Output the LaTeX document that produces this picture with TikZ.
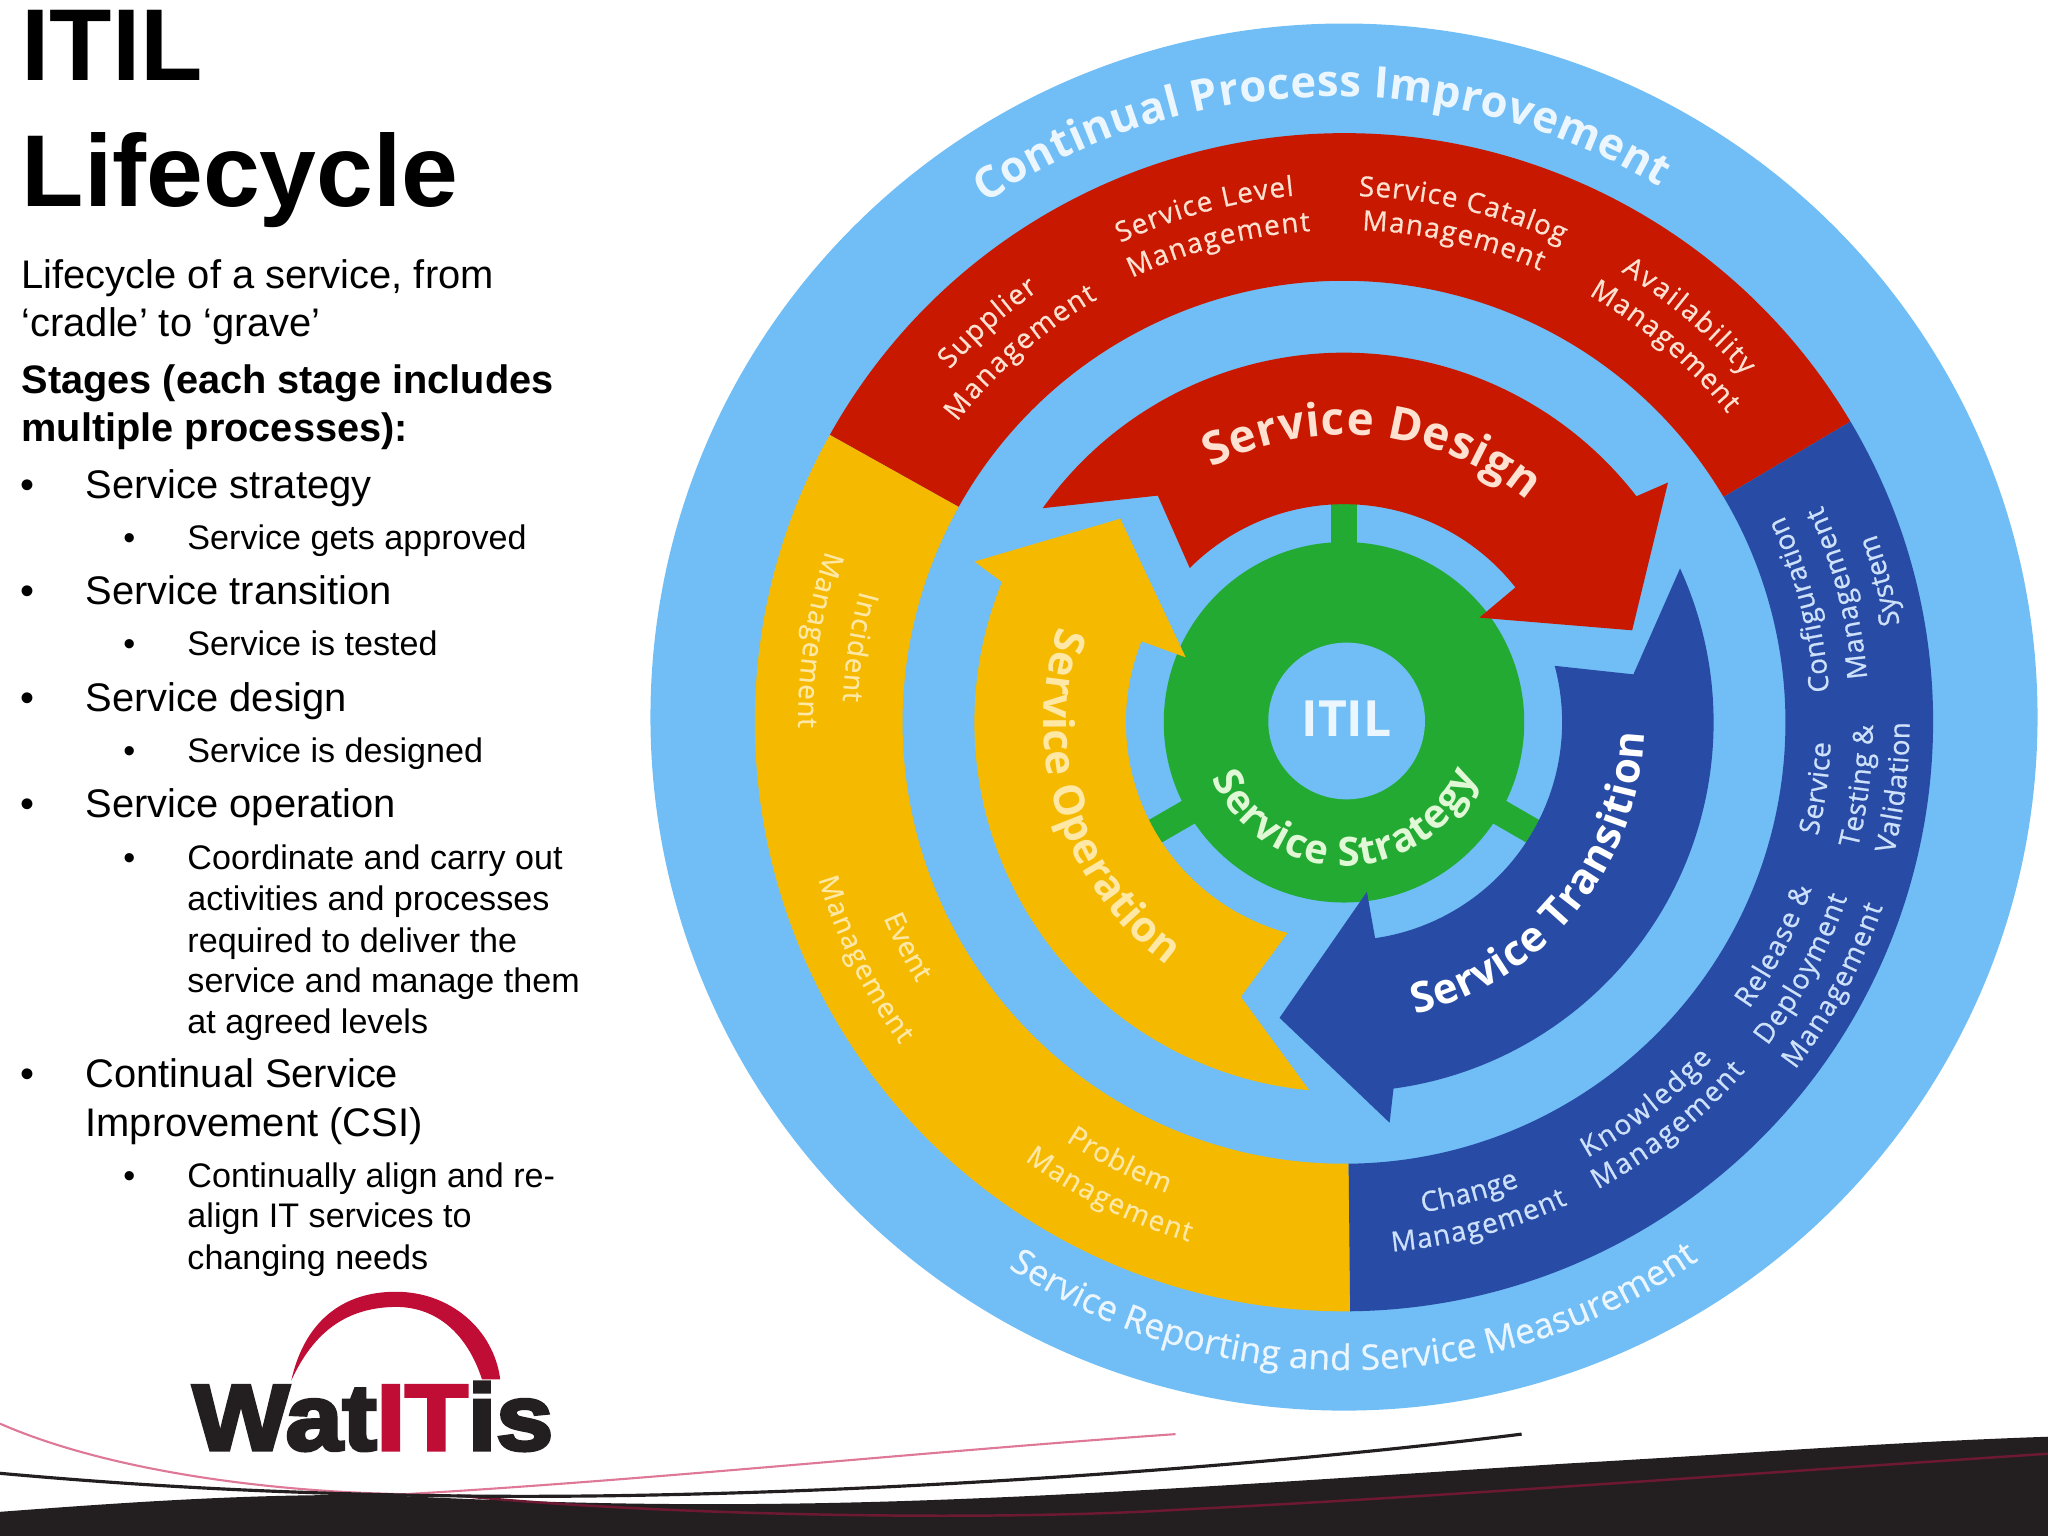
\documentclass[tikz,border=0pt]{standalone}
\usepackage{fontspec}
\setmainfont{Liberation Sans}
\newfontfamily\ringfont{Open Sans}
\newfontfamily\ringmed[FakeBold=0.6]{Open Sans}
\newfontfamily\logofont[BoldFeatures={FakeBold=4,FakeStretch=1.1}]{Liberation Sans}
\usetikzlibrary{decorations.text}
\definecolor{skyb}{RGB}{112,190,245}
\definecolor{ringred}{RGB}{200,25,0}
\definecolor{ringyel}{RGB}{245,185,0}
\definecolor{ringblu}{RGB}{40,75,165}
\definecolor{hubgrn}{RGB}{35,170,50}
\definecolor{txtred}{RGB}{255,225,210}
\definecolor{txtyel}{RGB}{255,232,165}
\definecolor{txtblu}{RGB}{205,225,250}
\definecolor{txtgrn}{RGB}{225,248,215}
\definecolor{txtsky}{RGB}{235,246,255}
\definecolor{logodark}{RGB}{35,31,32}
\definecolor{logored}{RGB}{192,13,53}
\definecolor{swpink}{RGB}{222,120,150}
\definecolor{swdark}{RGB}{110,25,50}
\newcommand{\arclabel}[7]{%
  \path[decorate,decoration={text along path,text align={fit to path},
    text={|\fontsize{#4pt}{#4pt}\selectfont #5\color{#6}|#7}}]
    (#2:#1) arc[start angle=#2,end angle=#3,radius=#1];}
\newcommand{\ringlab}[5]{\arclabel{#1}{#2}{#3}{7.9}{\ringmed}{#4}{#5}}
\newcommand{\lft}[5]{\node[anchor=base west,inner sep=0pt,font=\fontsize{#4pt}{#4pt}\selectfont] (#1) at (#2,-#3) {#5};}
\begin{document}
\begin{tikzpicture}[x=0.013061cm,y=0.013061cm]
\useasboundingbox (0,0) rectangle (1568,-1176);
% bottom swoosh
\fill[logodark] (0,-1157.5) .. controls (100,-1150) and (200,-1143) .. (300,-1145) .. controls (400,-1150) and (500,-1153) .. (620,-1151) .. controls (800,-1148) and (1000,-1133) .. (1200,-1120.5) .. controls (1350,-1112) and (1450,-1104) .. (1568,-1100) -- (1568,-1176) -- (0,-1176) -- cycle;
\draw[swdark,line width=0.7pt] (350,-1145) .. controls (500,-1160) and (750,-1165) .. (900,-1156) .. controls (1100,-1146) and (1300,-1131) .. (1568,-1113);
\draw[swpink,line width=0.6pt] (0,-1090) .. controls (80,-1125) and (200,-1142) .. (310,-1144) .. controls (500,-1133) and (700,-1112) .. (900,-1098);
\draw[logodark,line width=0.9pt] (0,-1128) .. controls (100,-1137) and (200,-1143) .. (330,-1145) .. controls (600,-1150) and (950,-1125) .. (1165,-1098);
% left text
\lft{ti1}{16}{62}{29.06}{\textbf{ITIL}}
\lft{ti2}{16}{158}{29.06}{\textbf{Lifecycle}}
\lft{a1}{16}{221}{11.35}{Lifecycle of a service, from}
\lft{a2}{16}{258}{11.35}{‘cradle’ to ‘grave’}
\lft{b1}{16}{301}{11.3}{\textbf{Stages (each stage includes}}
\lft{b2}{16}{338}{11.3}{\textbf{multiple processes):}}
\lft{c0}{15}{382}{11.35}{•}\lft{c1}{65}{382}{11.35}{Service strategy}
\lft{c2}{94}{421}{9.7}{•}\lft{c3}{143}{421}{9.7}{Service gets approved}
\lft{d0}{15}{463}{11.35}{•}\lft{d1}{65}{463}{11.35}{Service transition}
\lft{d2}{94}{502}{9.7}{•}\lft{d3}{143}{502}{9.7}{Service is tested}
\lft{e0}{15}{545}{11.35}{•}\lft{e1}{65}{545}{11.35}{Service design}
\lft{e2}{94}{584}{9.7}{•}\lft{e3}{143}{584}{9.7}{Service is designed}
\lft{f0}{15}{626}{11.35}{•}\lft{f1}{65}{626}{11.35}{Service operation}
\lft{f2}{94}{666}{9.7}{•}\lft{f3}{143}{666}{9.7}{Coordinate and carry out}
\lft{f4}{143}{697}{9.7}{activities and processes}
\lft{f5}{143}{729}{9.7}{required to deliver the}
\lft{f6}{143}{760}{9.7}{service and manage them}
\lft{f7}{143}{791}{9.7}{at agreed levels}
\lft{g0}{15}{833}{11.35}{•}\lft{g1}{65}{833}{11.35}{Continual Service}
\lft{g2}{65}{870}{11.35}{Improvement (CSI)}
\lft{g3}{94}{909}{9.7}{•}\lft{g4}{143}{909}{9.7}{Continually align and re-}
\lft{g5}{143}{940}{9.7}{align IT services to}
\lft{g6}{143}{972}{9.7}{changing needs}
% logo
\fill[logored] (223,-1057) .. controls (233,-1012) and (262,-989) .. (303,-989) .. controls (345,-989) and (378,-1018) .. (383,-1056) -- (369,-1056) .. controls (358,-1022) and (335,-1000.6) .. (303,-1000.6) .. controls (265,-1001) and (240,-1020) .. (223,-1057) -- cycle;
\node[anchor=base west,inner sep=0pt,font=\logofont\bfseries\fontsize{26.5pt}{26.5pt}\selectfont] (logo) at (147,-1110) {\color{logodark}Wat\color{logored}IT\color{logodark}is};
% wheel
\fill[skyb] (1029,-549) circle[radius=531];
\begin{scope}[shift={(1029,-553)}]
\fill[ringred] (150.8:451) arc[start angle=150.8,end angle=30.7,radius=451] -- (30.7:338) arc[start angle=30.7,end angle=150.8,radius=338] -- cycle;
\fill[ringyel] (150.8:451) arc[start angle=150.8,end angle=270.6,radius=451] -- (270.6:338) arc[start angle=270.6,end angle=150.8,radius=338] -- cycle;
\fill[ringblu] (30.7:451) arc[start angle=30.7,end angle=-89.4,radius=451] -- (-89.4:338) arc[start angle=-89.4,end angle=30.7,radius=338] -- cycle;
\fill[hubgrn] (0,0) circle[radius=138];
\fill[skyb] (2,1) circle[radius=60];
\foreach \s in {90,210,330} \draw[hubgrn,line width=7.4pt] (\s:130) -- (\s:170);
\foreach \rr/\cc in {0/ringred,-120/ringblu,120/ringyel}
  \fill[\cc,rotate=\rr] (144.6:283) arc[start angle=144.6,end angle=37.7,radius=283] -- (36.5:308.6) -- (17.7:231.6) -- (37.7:131) -- (38.2:167) arc[start angle=38.2,end angle=135,radius=167] -- (129.4:224.6) -- cycle;
% outer band text
\begin{scope}[shift={(-7,-1)}]
\arclabel{480}{123.9}{58.8}{12.4}{\ringfont\bfseries}{txtsky}{Continual Process Improvement}
\end{scope}
\begin{scope}[shift={(3,-26)}]
\arclabel{470}{236.4}{304.8}{10}{\ringmed}{txtsky}{Service Reporting and Service Measurement}
\end{scope}
% arrow text
\arclabel{220}{117.5}{50.4}{13}{\ringfont\bfseries}{txtred}{Service Design}
\arclabel{230}{-76.3}{-2}{12}{\ringfont\bfseries}{white}{Service Transition}
\arclabel{230}{161.5}{234}{12}{\ringfont\bfseries}{txtyel}{Service Operation}
\arclabel{110}{203}{338}{11.4}{\ringfont\bfseries}{txtgrn}{Service Strategy}
\node[font=\ringfont\bfseries\fontsize{14.2pt}{14.2pt}\selectfont,text=txtsky] (itil) at (2,3) {ITIL};
% red ring labels
\ringlab{405}{138.2}{125.3}{txtred}{Supplier}
\ringlab{375}{142.2}{120.2}{txtred}{Management}
\ringlab{405}{115}{95.4}{txtred}{Service Level}
\ringlab{377}{115.5}{93.9}{txtred}{Management}
\ringlab{403}{88.4}{65.5}{txtred}{Service Catalog}
\ringlab{377}{87.9}{66.5}{txtred}{Management}
\ringlab{405}{58.4}{40.9}{txtred}{Availability}
\ringlab{377}{60.2}{38.8}{txtred}{Management}
% blue ring labels
\ringlab{372}{3.6}{25.2}{txtblu}{Configuration}
\ringlab{402}{4.8}{24.4}{txtblu}{Management}
\ringlab{432}{10}{18.9}{txtblu}{System}
\ringlab{373}{-13.5}{-2.4}{txtblu}{Service}
\ringlab{405}{-13.8}{-0.3}{txtblu}{Testing {\&}}
\ringlab{433}{-13.5}{0}{txtblu}{Validation}
\ringlab{380}{-35.3}{-19.6}{txtblu}{Release {\&}}
\ringlab{408}{-37.4}{-19.2}{txtblu}{Deployment}
\ringlab{436}{-37.6}{-18.9}{txtblu}{Management}
\ringlab{382}{-60.8}{-42.4}{txtblu}{Knowledge}
\ringlab{407}{-61.5}{-41}{txtblu}{Management}
\ringlab{380}{-80.9}{-69.3}{txtblu}{Change}
\ringlab{407}{-84.8}{-65.1}{txtblu}{Management}
% yellow ring labels
\ringlab{385}{236.4}{249.4}{txtyel}{Problem}
\ringlab{415}{233.9}{253.4}{txtyel}{Management}
\ringlab{383}{203}{211.4}{txtyel}{Event}
\ringlab{420}{196.6}{216}{txtyel}{Management}
\ringlab{384}{164.8}{177.6}{txtyel}{Incident}
\ringlab{418}{161.7}{180.6}{txtyel}{Management}
\end{scope}
\end{tikzpicture}
\end{document}
